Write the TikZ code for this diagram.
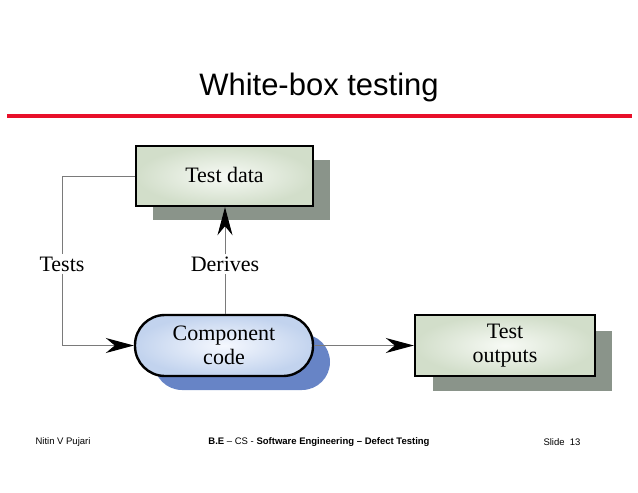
\documentclass[tikz,border=0pt]{standalone}
\usepackage{fontspec}
\setmainfont{Liberation Serif}
\newfontfamily\arialf[Ligatures=TeX]{Liberation Sans}
\usetikzlibrary{arrows.meta}
\definecolor{titlered}{HTML}{E8102A}
\definecolor{boxouter}{HTML}{D2DECA}
\definecolor{boxinner}{HTML}{F7FAF5}
\definecolor{greyshadow}{HTML}{8A948A}
\definecolor{blueouter}{HTML}{C2D3EE}
\definecolor{blueinner}{HTML}{F5F8FE}
\definecolor{blueshadow}{HTML}{6784C6}
\definecolor{linegrey}{HTML}{7A7A7A}
\tikzset{
  databox/.style={draw=black, line width=2.4pt, inner color=boxinner, outer color=boxouter,
    minimum width=177pt, minimum height=60pt, font=\fontsize{22}{24}\selectfont, align=center},
  shadowbox/.style={fill=greyshadow, minimum width=177pt, minimum height=60pt, inner sep=0},
  compbox/.style={draw=black, line width=2.4pt, inner color=blueinner, outer color=blueouter,
    rounded corners=30pt, minimum width=178pt, minimum height=61pt, font=\fontsize{22}{24}\selectfont, align=center},
  compshadow/.style={fill=blueshadow, rounded corners=28pt, minimum width=176pt, minimum height=56pt, inner sep=0},
  conn/.style={draw=linegrey, line width=1pt},
  tip/.style={-{Stealth[length=28pt, width=15pt, inset=9pt, color=black]}},
  lbl/.style={fill=white, font=\fontsize{22}{24}\selectfont, inner sep=2pt},
  foot/.style={font=\arialf\fontsize{9.5}{11}\selectfont}
}
\begin{document}
\begin{tikzpicture}[x=1pt, y=-1pt]
\useasboundingbox (0,0) rectangle (638,493);
% title
\node[font=\arialf\fontsize{31}{34}\selectfont] (title) at (319,87) {White-box testing};
\draw[titlered, line width=3.2pt] (7,116) -- (632,116);
% shadows
\node[shadowbox] (tdsh) at (241.5,190) {};
\node[shadowbox, minimum width=179pt] (tosh) at (522.5,361) {};
\node[compshadow] (ccsh) at (242,362) {};
% boxes
\node[databox] (td) at (224.5,176) {\raisebox{3pt}{Test data}};
\node[compbox] (cc) at (224,345.5) {Component\\[0pt]code};
\node[databox, minimum width=180pt, minimum height=61pt] (to) at (505,345.5) {Test\\[0pt]outputs};
% labels
\node[lbl] (tests) at (62,264) {Tests};
\node[lbl] (der) at (225,264) {Derives};
% connectors
\coordinate (c1) at (62,176);
\coordinate (c2) at (62,345.5);
\draw[conn] (td.west) -- (c1) -- (tests.north);
\draw[conn, tip] (tests.south) -- (c2) -- (cc.west);
\draw[conn] (cc.north -| der) -- (der.south);
\draw[conn, tip] (der.north) -- (td.south -| der);
\draw[conn, tip] (cc.east) -- (to.west);
% footer
\node[foot, anchor=west] (f1) at (32,442) {Nitin V Pujari};
\node[foot] (f2) at (319,442) {\textbf{B.E} -- CS - \textbf{Software Engineering -- Defect Testing}};
\node[foot, anchor=west] (f3) at (540,442) {Slide\ \ 13};
\end{tikzpicture}
\end{document}
